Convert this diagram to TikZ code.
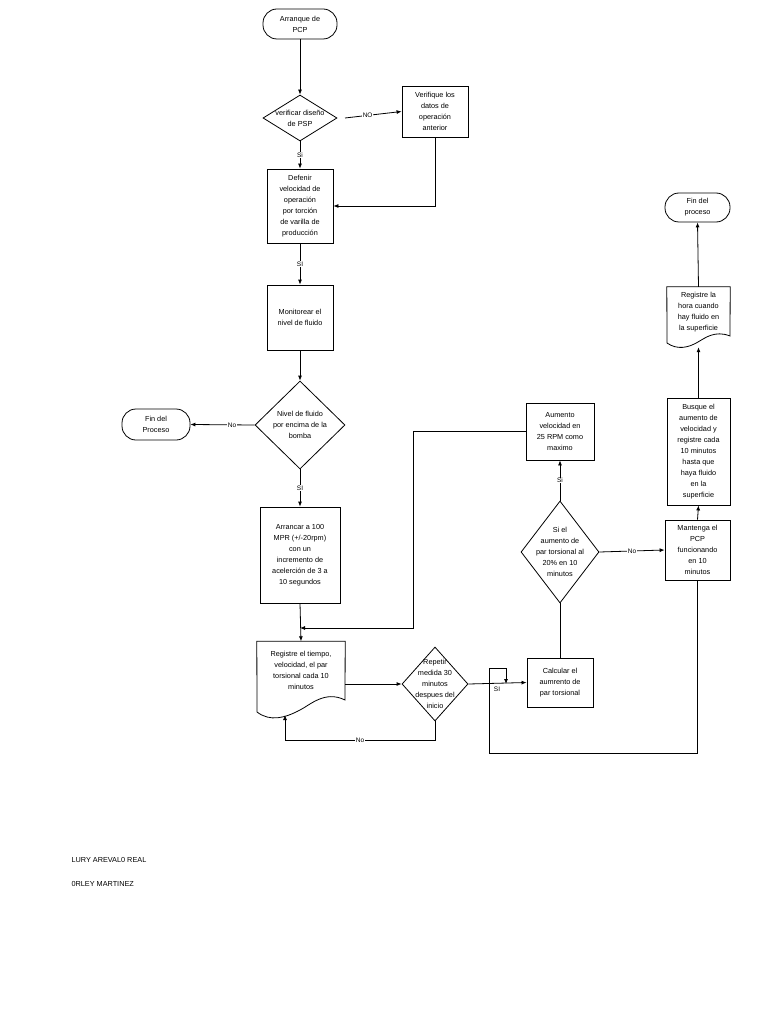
\documentclass[tikz,border=0pt]{standalone}
\usepackage{fontspec}
\setmainfont{Liberation Sans}
\usetikzlibrary{shapes.geometric,arrows.meta}
\begin{document}
\begin{tikzpicture}[x=1pt,y=-1pt,
  every node/.style={font=\fontsize{7.3}{11}\selectfont,align=center},
  box/.style={draw,thick,rectangle,minimum width=#1,inner sep=1pt},
  term/.style={draw,thick,rounded rectangle,minimum width=66,minimum height=30},
  dia/.style={draw,thick,diamond,aspect=#1,inner sep=0pt},
  ar/.style={thick,-{Latex[length=5pt,width=4pt]}},
  ln/.style={thick},
  lab/.style={font=\fontsize{6.5}{8}\selectfont,fill=white,inner sep=0.5pt}]
\useasboundingbox (0,0) rectangle (768,1024);
\tikzset{rounded rectangle/.style={rounded corners=14pt}}
\node[draw,thick,rounded corners=14pt,minimum width=74,minimum height=30] (start) at (300,24) {Arranque de\\PCP};
\node[draw,thick,diamond,minimum width=74,minimum height=46,inner sep=0pt,aspect=1.6] (d1) at (300,118) {};
\node at (300,118) {verificar diseño\\de PSP};
\node[draw,thick,minimum width=66,minimum height=51] (ver) at (435,111.5) {Verifique los\\datos de\\operación\\anterior};
\node[draw,thick,minimum width=66,minimum height=74] (def) at (300,206) {Defenir\\velocidad de\\operación\\por torción\\de varilla de\\producción};
\node[draw,thick,minimum width=66,minimum height=65] (mon) at (300,317.5) {Monitorear el\\nivel de fluido};
\node[draw,thick,diamond,minimum width=90,minimum height=88,inner sep=0pt] (d2) at (300,425) {};
\node at (300,425) {Nivel de fluido\\por encima de la\\bomba};
\node[draw,thick,rounded corners=14pt,minimum width=68,minimum height=31] (fin1) at (156,424.5) {Fin del\\Proceso};
\node[draw,thick,minimum width=80,minimum height=96] (arr) at (300,555) {Arrancar a 100\\MPR (+/-20rpm)\\con un\\incremento de\\acelerción de 3 a\\10 segundos};
\node[minimum width=88,minimum height=75] (reg) at (301,679) {};
\draw[thick] (reg.north west) -- (reg.north east) -- (345,700) .. controls (325,690) and (310,705) .. (300,710) .. controls (285,718) and (270,722) .. (257,712) -- cycle;
\node at (301,670) {Registre el tiempo,\\velocidad, el par\\torsional cada 10\\minutos};
\node[draw,thick,diamond,minimum width=66,minimum height=74,inner sep=0pt] (d3) at (435,684) {};
\node at (435,684) {Repetir\\medida 30\\minutos\\despues del\\inicio};
\node[draw,thick,minimum width=66,minimum height=49] (cal) at (560,682.5) {Calcular el\\aumrento de\\par torsional};
\node[draw,thick,diamond,minimum width=78,minimum height=102,inner sep=0pt] (d4) at (560,552) {};
\node at (560,552) {Si el\\aumento de\\par torsional al\\20\% en 10\\minutos};
\node[draw,thick,minimum width=68,minimum height=57] (aum) at (560,431.5) {Aumento\\velocidad en\\25 RPM como\\maximo};
\node[draw,thick,minimum width=65,minimum height=60] (man) at (697.5,550) {Mantenga el\\PCP\\funcionando\\en 10\\minutos};
\node[draw,thick,minimum width=63,minimum height=107] (bus) at (698.5,451.5) {Busque el\\aumento de\\velocidad y\\registre cada\\10 minutos\\hasta que\\haya fluido\\en la\\superficie};
\node[minimum width=63,minimum height=60] (reg2) at (698.5,317) {};
\draw[thick] (reg2.north west) -- (reg2.north east) -- (730,336) .. controls (715,330) and (705,338) .. (698,342) .. controls (688,348) and (677,350) .. (667,343) -- cycle;
\node at (698.5,312) {Registre la\\hora cuando\\hay fluido en\\la superficie};
\node[draw,thick,rounded corners=14pt,minimum width=65,minimum height=29] (fin2) at (697.5,207.5) {Fin del\\proceso};
\coordinate (j1) at (300,628);
\coordinate (lp) at (489,684);
% connectors
\draw[ar] (start) -- (d1);
\draw[ar] (345,118) -- node[lab,pos=0.4]{NO} (ver.west);
\draw[ar] (d1.south) -- node[lab]{Si} (def.north);
\draw[ar] (ver.south) |- (def.east);
\draw[ar] (def.south) -- node[lab]{SI} (mon.north);
\draw[ar] (mon.south) -- (d2.north);
\draw[ar] (d2.west) -- node[lab,pos=0.35]{No} (fin1.east);
\draw[ar] (d2.south) -- node[lab]{SI} (arr.north);
\draw[ar] (arr.south) -- (reg.north);
\draw[ar] (aum.west) -- (413,431.5) |- (j1);
\draw[ar] (reg.east |- d3) -- (d3.west);
\draw[ar] (d3.south) |- node[lab,pos=0.75]{No} (285,740) -- (285,715);
\draw[ar] (d3.east) -- (cal.west);
\node[lab] at (497,689) {SI};
\draw[ln] (man.south) |- (489,753) -- (489,668) -- (506,668);
\draw[ar] (506,668) -- (lp -| 506,0);
\draw[ln] (cal.north) -- (d4.south);
\draw[ar] (d4.north) -- node[lab]{Si} (aum.south);
\draw[ar] (d4.east) -- node[lab,pos=0.5]{No} (man.west);
\draw[ar] (man.north) -- (bus.south);
\draw[ar] (bus.north) -- (reg2.south);
\draw[ar] (reg2.north) -- (fin2.south);
\node[anchor=west] (a1) at (68,860) {LURY AREVAL0 REAL};
\node[anchor=west] (a2) at (68,884) {0RLEY MARTINEZ};
\end{tikzpicture}
\end{document}
